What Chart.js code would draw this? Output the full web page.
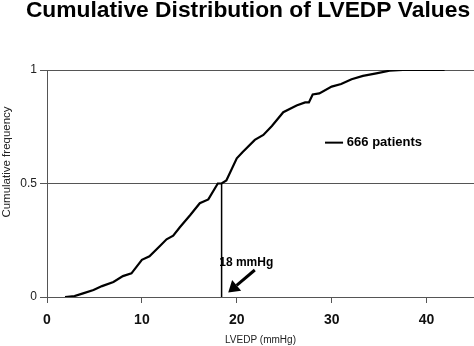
<!DOCTYPE html>
<html>
<head>
<meta charset="utf-8">
<title>Cumulative Distribution of LVEDP Values</title>
<script src="https://cdn.jsdelivr.net/npm/chart.js@4.4.1/dist/chart.umd.min.js"></script>
<style>
  html, body { margin: 0; padding: 0; background: #fff; }
  canvas { display: block; }
</style>
</head>
<body>
<canvas id="cdfChart" width="474" height="346"></canvas>
<script>
// LVEDP (mmHg) values and cumulative frequency
const lvedp = [1.9, 2.9, 3.8, 4.9, 5.8, 7.0, 8.0, 8.9, 10.0, 10.8, 11.9, 12.6, 13.3, 14.0, 15.1, 16.1, 17.0,
    18.0, 18.4, 18.9, 20.0, 20.6, 21.9, 22.8, 23.7, 24.9, 26.3, 27.2, 27.6, 28.0, 28.7, 30.0, 31.0, 32.1,
    33.3, 34.7, 36.1, 37.5, 41.9];
const cumFreq = [0, 0.004, 0.016, 0.031, 0.048, 0.066, 0.092, 0.104, 0.164, 0.179, 0.225, 0.254, 0.27, 0.307,
    0.361, 0.413, 0.43, 0.5, 0.5, 0.513, 0.611, 0.638, 0.692, 0.714, 0.753, 0.814, 0.844, 0.857, 0.857,
    0.892, 0.897, 0.927, 0.938, 0.959, 0.974, 0.985, 0.997, 1.0, 1.0];

const xTicks = [0, 10, 20, 30, 40];
const yTicks = [0, 0.5, 1];

const seriesLabel = '666 patients';
const medianValue = 18.4;     // vertical marker
const medianText = '18 mmHg';

const points = lvedp.map((v, i) => ({ x: v, y: cumFreq[i] }));

// titel, y-as titel, legenda en pijl
const overlay = {
    id: 'overlay',
    afterDraw(chart) {
        const ctx = chart.ctx;
        const x = chart.scales.x;
        const y = chart.scales.y;
        ctx.save();

        // title
        ctx.fillStyle = '#000';
        ctx.font = 'bold 22.8px "Liberation Sans", Arial, sans-serif';
        ctx.textAlign = 'center';
        ctx.textBaseline = 'alphabetic';
        ctx.fillText('Cumulative Distribution of LVEDP Values', 248, 16.5);

        // y axis title
        ctx.save();
        ctx.translate(7, 162);
        ctx.rotate(-Math.PI / 2);
        ctx.font = '11.5px "Liberation Sans", Arial, sans-serif';
        ctx.fillStyle = '#222';
        ctx.textAlign = 'center';
        ctx.textBaseline = 'middle';
        ctx.fillText('Cumulative frequency', 0, 0);
        ctx.restore();

        // vertical marker at median
        ctx.strokeStyle = '#000';
        ctx.lineWidth = 1.5;
        ctx.beginPath();
        ctx.moveTo(x.getPixelForValue(medianValue), y.getPixelForValue(0));
        ctx.lineTo(x.getPixelForValue(medianValue), y.getPixelForValue(0.5));
        ctx.stroke();

        // arrow
        const tx = x.getPixelForValue(19.1), ty = y.getPixelForValue(0.02);
        const sx = x.getPixelForValue(21.9), sy = y.getPixelForValue(0.119);
        const ang = Math.atan2(ty - sy, tx - sx);
        const headLen = 11, headW = 7;
        const bx = tx - headLen * Math.cos(ang), by = ty - headLen * Math.sin(ang);
        ctx.lineWidth = 3;
        ctx.beginPath();
        ctx.moveTo(sx, sy);
        ctx.lineTo(bx, by);
        ctx.stroke();
        ctx.fillStyle = '#000';
        ctx.beginPath();
        ctx.moveTo(tx, ty);
        ctx.lineTo(bx + headW * Math.sin(ang), by - headW * Math.cos(ang));
        ctx.lineTo(bx - headW * Math.sin(ang), by + headW * Math.cos(ang));
        ctx.closePath();
        ctx.fill();

        ctx.font = 'bold 12px "Liberation Sans", Arial, sans-serif';
        ctx.textAlign = 'center';
        ctx.textBaseline = 'middle';
        ctx.fillText(medianText, x.getPixelForValue(21.0), y.getPixelForValue(0.152));

        // legend
        const ly = y.getPixelForValue(0.68);
        ctx.lineWidth = 2;
        ctx.beginPath();
        ctx.moveTo(x.getPixelForValue(29.3), ly);
        ctx.lineTo(x.getPixelForValue(31.2), ly);
        ctx.stroke();
        ctx.font = 'bold 13px "Liberation Sans", Arial, sans-serif';
        ctx.textAlign = 'left';
        ctx.fillText(seriesLabel, x.getPixelForValue(31.6), ly);

        ctx.restore();
    }
};

const ctx = document.getElementById('cdfChart').getContext('2d');
const cdfChart = new Chart(ctx, {
    type: 'line',
    data: {
        datasets: [{
            label: seriesLabel,
            data: points,
            borderColor: '#000',
            borderWidth: 2.2,
            pointRadius: 0,
            fill: false,
            tension: 0
        }]
    },
    options: {
        responsive: false,
        animation: false,
        devicePixelRatio: 1,
        layout: { padding: { top: 70, right: 0, bottom: 0, left: 0 } },
        plugins: {
            legend: { display: false },
            tooltip: { enabled: false }
        },
        scales: {
            x: {
                type: 'linear',
                min: 0,
                max: 45,
                afterBuildTicks: axis => { axis.ticks = xTicks.map(v => ({ value: v })); },
                afterFit: axis => { axis.height = 49; },
                ticks: {
                    color: '#111',
                    padding: 9,
                    callback: v => String(v),
                    font: { family: '"Liberation Sans", Arial, sans-serif', size: 14, weight: 'bold' }
                },
                grid: { drawOnChartArea: false, tickLength: 6, color: '#555' },
                border: { color: '#555' },
                title: {
                    display: true,
                    text: 'LVEDP (mmHg)',
                    color: '#222',
                    padding: 0,
                    font: { family: '"Liberation Sans", Arial, sans-serif', size: 10 }
                }
            },
            y: {
                min: 0,
                max: 1,
                afterBuildTicks: axis => { axis.ticks = yTicks.map(v => ({ value: v })); },
                afterFit: axis => { axis.width = 47; },
                ticks: {
                    color: '#222',
                    padding: 3,
                    callback: v => String(v),
                    font: { family: '"Liberation Sans", Arial, sans-serif', size: 12 }
                },
                grid: { color: '#555', tickLength: 7 },
                border: { color: '#555' }
            }
        }
    },
    plugins: [overlay]
});
</script>
</body>
</html>
